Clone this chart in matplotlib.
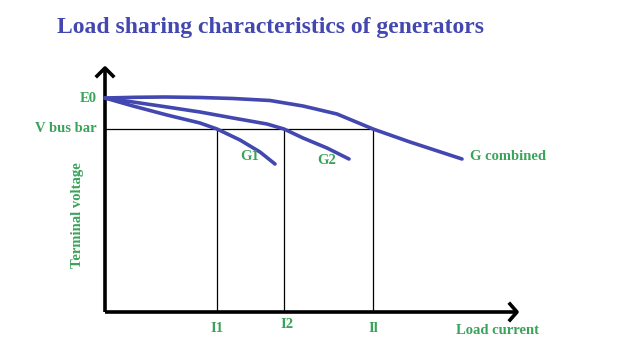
import numpy as np
import matplotlib
matplotlib.use('Agg')
from matplotlib import pyplot as plt

# levels and currents (origin at the axes corner)
e0 = 214
v_bus = 183
i1, i2, il = 112, 179, 268

# curve points
g1_x = [0, 28, 62, 95, 112, 135, 155, 170]
g1_y = [214, 206, 197, 189, 183, 172, 160, 148]
g2_x = [0, 28, 62, 95, 128, 162, 179, 198, 222, 244]
g2_y = [214, 210, 205, 200, 194, 188, 183, 174, 164, 153]
gc_x = [0, 30, 60, 95, 128, 165, 198, 232, 268, 305, 357]
gc_y = [214, 214.7, 215, 214.5, 213.5, 211.5, 206, 198, 183, 170, 153]

blue = '#4347b0'
green = '#3aa35a'
serif = ['Liberation Serif', 'DejaVu Serif']

fig = plt.figure(figsize=(6.4, 3.6), dpi=100)
ax = fig.add_axes([0, 0, 1, 1])
ax.set_xlim(-105, 535)
ax.set_ylim(-48, 312)
ax.axis('off')

# axes with open arrow heads
ax.plot([0, 0], [0, 244], color='black', lw=2.6, solid_capstyle='butt')
ax.plot([-8, 0, 8], [236, 244, 236], color='black', lw=2.6)
ax.plot([0, 412], [0, 0], color='black', lw=2.6, solid_capstyle='butt')
ax.plot([405, 412, 405], [8, 0, -8], color='black', lw=2.6)

# bus bar level and the current markers
ax.plot([0, il], [v_bus, v_bus], color='black', lw=0.9)
for x in (i1, i2, il):
    ax.plot([x, x], [0, v_bus], color='black', lw=0.9)

for xs, ys in ((g1_x, g1_y), (g2_x, g2_y), (gc_x, gc_y)):
    ax.plot(xs, ys, color=blue, lw=2.6, solid_capstyle='round', solid_joinstyle='round')

kw = dict(color=green, fontsize=10.5, fontweight='bold', family=serif)
ax.text(-8, e0, 'E0', ha='right', va='center', **kw)
ax.text(-8, v_bus, 'V bus bar', ha='right', va='center', **kw)
ax.text(-27, 97, 'Terminal voltage', rotation=90, ha='center', va='center', **kw)
ax.text(145, 156, 'G1', ha='center', va='center', **kw)
ax.text(222, 151, 'G2', ha='center', va='center', **kw)
ax.text(403, 155, 'G combined', ha='center', va='center', **kw)
ax.text(i1, -16, 'I1', ha='center', va='center', **kw)
ax.text(i2 + 3, -13, 'I2', ha='center', va='center', **kw)
ax.text(il, -16, 'Il', ha='center', va='center', **kw)
ax.text(393, -18, 'Load current', ha='center', va='center', **kw)

ax.text(-48, 284, 'Load sharing characteristics of generators', ha='left', va='center',
        color=blue, fontsize=17, fontweight='bold', family=serif)

fig.savefig('out.png', dpi=100, facecolor='white')
